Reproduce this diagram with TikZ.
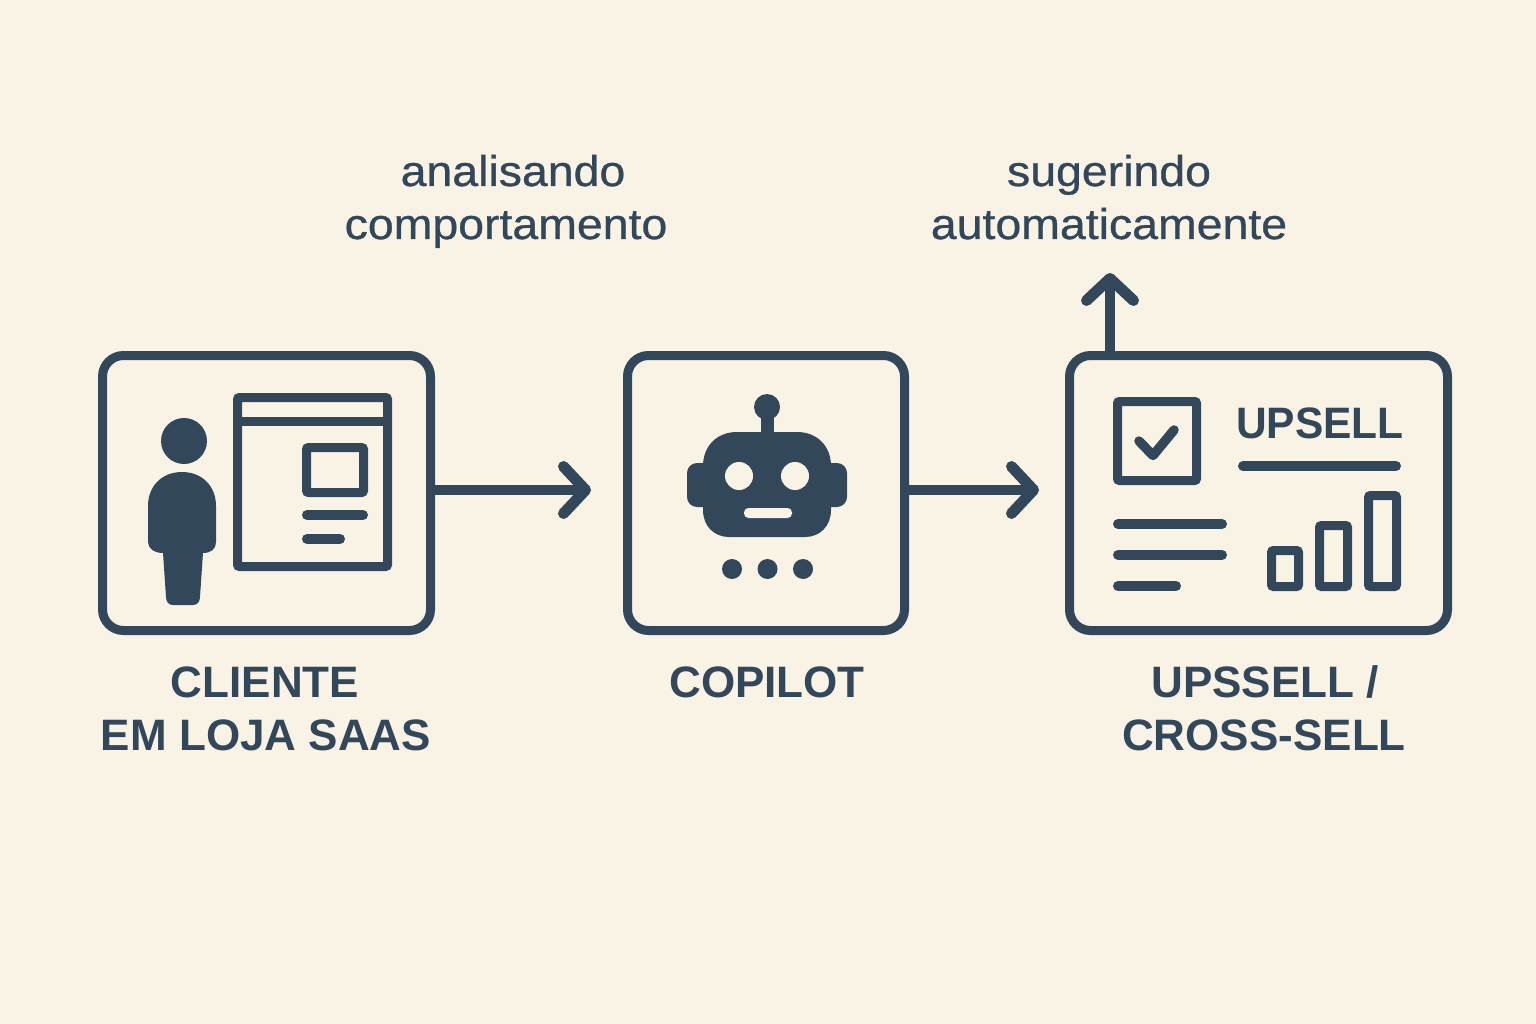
\documentclass[tikz,border=0pt]{standalone}
\usepackage{fontspec}
\setmainfont{Liberation Sans}
\newfontfamily\lblfont[FakeStretch=1.08,FakeBold=0.7]{Liberation Sans}
\newfontfamily\markfont[FakeStretch=0.965]{Liberation Sans Bold}
\usetikzlibrary{arrows.meta}
\definecolor{ink}{HTML}{33475B}
\definecolor{paper}{HTML}{F9F3E6}
\tikzset{
  panel/.style={draw=ink,line width=9pt,rounded corners=21pt,inner sep=0pt,fill=paper},
  flow/.style={draw=ink,line width=9.5pt,-{Straight Barb[length=22pt,width=47pt,line width=11pt,round]}},
  icon/.style={draw=ink,line width=9pt,rounded corners=2pt},
  bar/.style={draw=ink,line width=10pt,line cap=round},
  note/.style={font=\fontsize{43}{53}\selectfont\lblfont,text=ink,align=center,inner sep=0pt},
  title/.style={font=\fontsize{44}{53}\selectfont\bfseries,text=ink,align=center,inner sep=0pt}
}
\begin{document}
\begin{tikzpicture}[x=1pt,y=-1pt]
\useasboundingbox[fill=paper] (0,0) rectangle (1536,1024);
% panels
\node[panel,minimum width=328pt,minimum height=275pt] (client) at (266.5,493) {};
\node[panel,minimum width=277pt,minimum height=275pt] (copilot) at (766,493) {};
\node[panel,minimum width=378pt,minimum height=275pt] (upsell) at (1258.5,493) {};
% connectors
\coordinate (suggest) at (1110,273);
\draw[flow,shorten >=32pt] ([yshift=3pt]client.east) -- ([yshift=3pt]copilot.west);
\draw[flow,shorten >=26pt] ([yshift=3pt]copilot.east) -- ([yshift=3pt]upsell.west);
\draw[flow] (suggest|-upsell.north) -- (suggest);
% person
\fill[ink] (184,441) circle (23);
\fill[ink] (148,506) .. controls (148,486) and (162,472) .. (182,472)
  .. controls (202,472) and (216,486) .. (216,506)
  -- (216,542) .. controls (216,549) and (211,553) .. (203,553)
  -- (200,597) .. controls (200,602) and (197,605) .. (193,605)
  -- (173,605) .. controls (169,605) and (166,602) .. (166,597)
  -- (163,553) .. controls (155,553) and (148,549) .. (148,542) -- cycle;
% window
\draw[icon] (237.5,397.5) rectangle (387.5,566.5);
\draw[draw=ink,line width=9pt] (237.5,421) -- (387.5,421);
\draw[icon] (306.5,447.5) rectangle (363.5,492.5);
\draw[bar] (307,515) -- (363,515);
\draw[bar] (307,539) -- (340,539);
% robot
\fill[ink] (767,407) circle (13);
\fill[ink] (760.5,415) rectangle (773.5,436);
\fill[ink,rounded corners=10pt] (687,463) rectangle (847,507);
\fill[ink] (703,500) -- (703,466) .. controls (703,446) and (717,432) .. (737,432)
  -- (797,432) .. controls (817,432) and (831,446) .. (831,466)
  -- (831,510) .. controls (831,526) and (820,537) .. (805,537)
  -- (729,537) .. controls (714,537) and (703,526) .. (703,510) -- cycle;
\fill[paper] (739,476) circle (14);
\fill[paper] (795,476) circle (14);
\fill[paper,rounded corners=4.5pt] (744,508) rectangle (792,518);
\fill[ink] (732,569) circle (10);
\fill[ink] (767.5,569) circle (10);
\fill[ink] (803,569) circle (10);
% upsell icons
\draw[icon] (1117.5,401.5) rectangle (1196.5,480.5);
\draw[draw=ink,line width=9.5pt,line cap=round,line join=round] (1139,441) -- (1153,455.5) -- (1174,430);
\node[font=\fontsize{44}{53}\selectfont\bfseries,text=ink,inner sep=0pt,anchor=base,xscale=1] (upsellmark) at (1320,438) {\markfont UPSELL};
\draw[bar] (1243,466) -- (1396,466);
\draw[bar] (1118,524) -- (1222,524);
\draw[bar] (1118,555) -- (1222,555);
\draw[bar] (1118,586) -- (1176,586);
\draw[icon] (1271.5,550.5) rectangle (1298.5,586.5);
\draw[icon] (1319.5,525.5) rectangle (1347.5,586.5);
\draw[icon] (1368.5,495.5) rectangle (1396.5,586.5);
% labels
\node[note,anchor=base] (n1a) at (513,186) {analisando};
\node[note,anchor=base] (n1b) at (506,239) {comportamento};
\node[note,anchor=base] (n2a) at (1109,186) {sugerindo};
\node[note,anchor=base] (n2b) at (1109,239) {automaticamente};
\node[title,anchor=base] (t1a) at (265,697) {CLIENTE};
\node[title,anchor=base] (t1b) at (266,750) {EM LOJA SAAS};
\node[title,anchor=base] (t2) at (767,697) {COPILOT};
\node[title,anchor=base] (t3a) at (1265,697) {UPSSELL /};
\node[title,anchor=base] (t3b) at (1264,750) {CROSS-SELL};
\end{tikzpicture}
\end{document}
